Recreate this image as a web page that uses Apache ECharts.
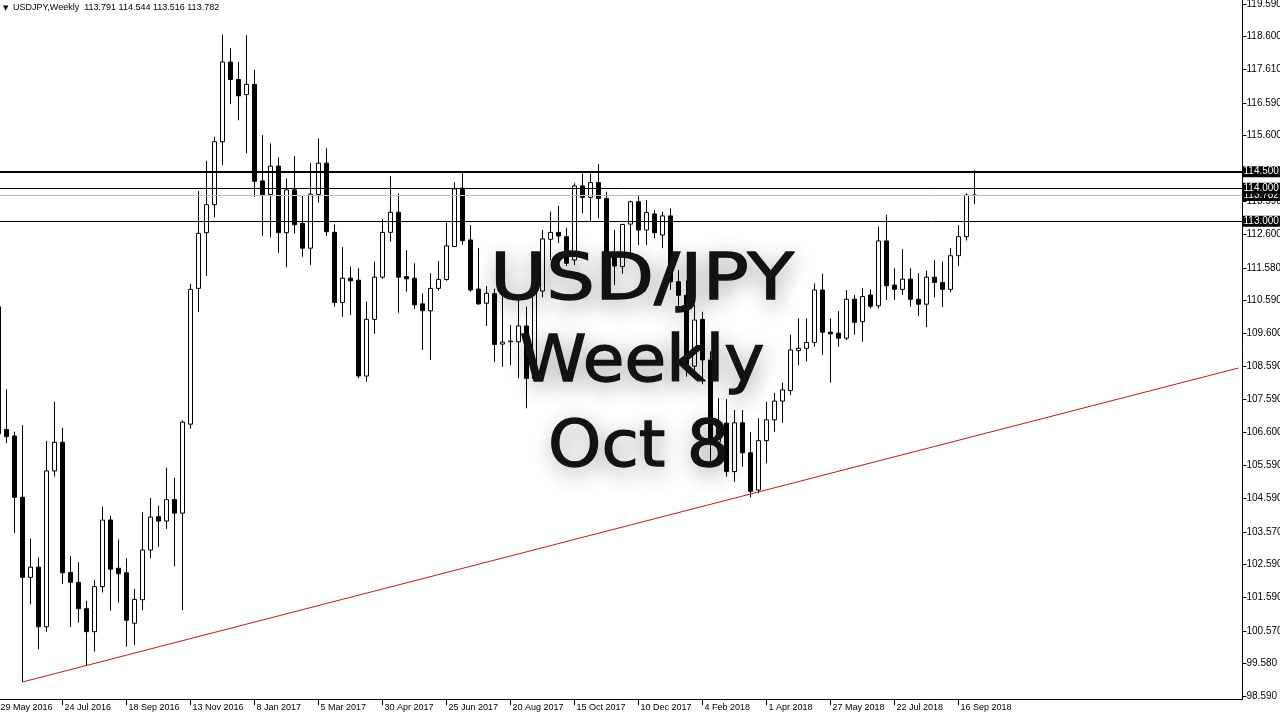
<!DOCTYPE html>
<html><head><meta charset="utf-8">
<script src="https://cdn.jsdelivr.net/npm/echarts@6/dist/echarts.min.js"></script>
<style>html,body{margin:0;padding:0;background:#fff}#c{width:1280px;height:720px}</style>
</head><body><div id="c"></div>
<script>
// Weekly bars, index 0 = week of 29 May 2016
const xTickLabels = ['29 May 2016','24 Jul 2016','18 Sep 2016','13 Nov 2016','8 Jan 2017','5 Mar 2017','30 Apr 2017','25 Jun 2017','20 Aug 2017','15 Oct 2017','10 Dec 2017','4 Feb 2018','1 Apr 2018','27 May 2018','22 Jul 2018','16 Sep 2018'];
const yTickValues = [119.59,118.6,117.61,116.59,115.6,113.59,112.6,111.58,110.59,109.6,108.59,107.59,106.6,105.59,104.59,103.57,102.59,101.59,100.57,99.58,98.59];
const totalSlots = 156;

const opens = [110.40,106.68,106.48,104.62,102.19,102.50,100.69,105.42,106.29,102.34,102.04,101.24,100.54,101.91,103.93,102.47,102.33,
100.80,101.51,103.02,104.03,103.90,104.55,104.14,106.84,110.96,112.65,113.50,115.41,117.83,117.30,116.84,117.15,
114.22,113.81,114.67,112.65,113.95,112.93,112.18,113.81,114.76,112.66,110.53,111.27,111.21,108.30,110.02,
111.30,112.66,113.27,111.32,111.27,110.49,110.28,110.96,111.23,112.23,114.00,112.43,110.94,110.51,110.80,
109.27,109.34,109.34,109.82,108.23,110.88,112.45,112.66,112.53,111.82,114.07,113.72,114.17,113.69,112.02,111.62,
112.91,113.59,112.73,113.22,112.58,113.16,111.16,110.75,108.60,110.02,108.79,106.30,106.87,105.40,106.88,105.97,
104.84,106.34,106.97,107.54,107.86,109.07,109.14,109.32,110.91,109.63,109.60,109.45,110.63,109.95,110.76,
110.43,112.40,111.06,110.93,111.24,110.63,110.48,111.30,111.14,110.93,111.95,112.53,113.791];
const highs = [111.40,107.90,106.61,106.81,103.37,102.80,106.33,107.52,106.73,102.84,102.65,101.48,102.11,104.33,104.06,103.34,102.77,
101.84,104.16,104.60,104.36,105.52,105.21,106.95,111.10,113.91,114.83,115.56,118.66,118.25,117.83,118.64,117.59,
115.61,115.36,114.94,114.30,114.98,113.79,114.76,115.51,115.21,112.90,112.21,111.62,111.57,110.56,111.77,
113.06,114.37,113.84,112.12,111.72,110.81,111.42,111.79,112.95,114.18,114.49,112.88,112.18,111.03,110.95,
110.96,109.85,110.61,110.41,111.37,112.73,113.29,113.46,112.80,114.15,114.45,114.45,114.73,113.89,112.73,112.92,
113.62,113.76,113.64,113.34,113.29,113.39,111.52,111.20,110.46,110.25,109.05,107.63,107.60,107.27,107.27,106.60,
107.02,107.52,107.79,108.10,109.55,110.05,110.05,111.11,111.40,110.05,110.27,110.91,110.76,110.96,110.93,
112.83,113.19,111.57,112.15,111.57,111.42,111.50,111.82,111.77,112.18,112.88,113.84,114.544];
const lows = [106.50,106.26,103.54,99.02,101.37,100.01,100.54,105.25,101.99,100.68,100.82,99.53,99.94,101.73,101.18,101.42,100.09,
100.14,101.20,102.77,103.12,103.66,102.53,101.20,106.70,110.24,111.34,113.12,114.71,116.55,116.06,115.06,113.74,
112.55,112.51,112.04,111.60,112.63,111.92,111.67,113.56,112.55,110.40,110.10,110.15,108.23,108.13,109.58,
111.25,112.38,110.22,110.86,110.33,109.09,108.79,110.89,111.19,112.21,112.28,110.86,110.46,109.82,108.73,
108.58,108.63,108.23,107.32,108.18,110.69,111.82,112.33,111.64,111.67,113.24,112.98,113.09,111.92,111.06,111.40,
112.03,112.28,112.28,112.48,112.18,110.91,110.25,108.28,108.28,108.05,105.55,105.90,105.25,105.09,105.55,104.62,
104.74,105.65,106.61,106.88,107.72,108.63,108.74,109.19,108.94,108.10,109.19,109.39,109.55,109.34,110.35,
110.35,110.61,110.61,110.76,110.40,110.12,109.78,110.69,110.39,110.84,111.64,112.41,113.516];
const closes = [106.55,106.46,104.62,102.19,102.50,100.69,105.42,106.29,102.33,102.04,101.24,100.54,101.91,103.93,102.44,102.30,100.89,
101.52,103.02,104.02,103.90,104.55,104.14,106.90,110.93,112.63,113.50,115.41,117.83,117.30,116.80,117.15,114.21,
113.81,114.67,112.65,113.95,112.89,112.18,113.82,114.76,112.68,110.53,111.27,111.19,108.30,110.02,111.30,
112.66,113.27,111.30,111.25,110.46,110.28,110.96,111.23,112.25,113.98,112.41,110.91,110.49,110.81,109.26,
109.33,109.36,109.82,108.23,110.84,112.46,112.66,112.55,111.72,114.07,113.72,114.17,113.69,112.02,111.64,112.90,
113.59,112.73,113.26,112.65,113.16,111.16,110.75,108.60,110.00,108.79,106.30,106.87,105.40,106.88,105.97,104.80,
106.34,106.97,107.54,107.88,109.09,109.14,109.32,110.91,109.63,109.58,109.45,110.63,109.93,110.71,110.42,
112.40,111.04,110.93,111.24,110.63,110.48,111.30,111.14,110.93,111.95,112.53,113.79,113.782];

const levelValues = [114.5, 114.0, 113.0];
const bidValue = 113.782;
const trendStart = [3, 99.015];
const trendEnd = [155, 108.544];
const headerText = 'USDJPY,Weekly  113.791 114.544 113.516 113.782';
const overlayLines = ['USD/JPY', 'Weekly', 'Oct 8'];

const categories = Array.from({length: totalSlots}, (_, i) => String(i));
const candleData = opens.map((o, i) => [o, closes[i], lows[i], highs[i]]);
const showTick = (idx) => idx % 8 === 0 && idx / 8 < xTickLabels.length;

const boxLabel = (txt) => ({
  show: true, position: 'end', distance: 0, formatter: txt,
  color: '#fff', backgroundColor: '#000', padding: [1, 1, 0, 1],
  fontFamily: 'Liberation Sans', fontSize: 10
});

const bigStyle = (txt) => ({
  text: txt, fontSize: 64, fontFamily: 'DejaVu Sans', fill: '#121212', stroke: '#121212', lineWidth: 1.3,
  textAlign: 'center', textVerticalAlign: 'middle',
  textShadowBlur: 22, textShadowColor: 'rgba(0,0,0,0.32)', textShadowOffsetX: 2, textShadowOffsetY: 6
});

const chart = echarts.init(document.getElementById('c'), null, {renderer: 'canvas'});
chart.setOption({
  animation: false,
  backgroundColor: '#fff',
  grid: {left: -5.5, right: 37.5, top: 0, bottom: 21, containLabel: false, outerBoundsMode: 'none'},
  xAxis: {
    type: 'category', data: categories, boundaryGap: true,
    axisLine: {show: true, lineStyle: {color: '#000', width: 1}},
    axisTick: {show: true, alignWithLabel: true, interval: (i) => showTick(i), length: 6, lineStyle: {color: '#000'}},
    axisLabel: {
      show: true, interval: (i) => showTick(i), align: 'left', margin: 4, padding: [0, 0, 0, 2],
      fontFamily: 'Liberation Sans', fontSize: 9, color: '#000',
      formatter: (v, idx) => showTick(idx) ? xTickLabels[idx / 8] : ''
    },
    splitLine: {show: false}
  },
  yAxis: {
    type: 'value', position: 'right', min: 98.499, max: 119.711, scale: true,
    axisLine: {show: true, lineStyle: {color: '#000', width: 1}},
    axisTick: {show: true, customValues: yTickValues, length: 4, lineStyle: {color: '#000'}},
    axisLabel: {show: true, customValues: yTickValues, formatter: (v) => v.toFixed(3),
      fontFamily: 'Liberation Sans', fontSize: 10, color: '#000', margin: 4},
    splitLine: {show: false}
  },
  series: [{
    type: 'candlestick', data: candleData, barWidth: 4,
    itemStyle: {color: '#fff', color0: '#000', borderColor: '#000', borderColor0: '#000', borderColorDoji: '#000', borderWidth: 1},
    markLine: {
      symbol: 'none', silent: true, animation: false, precision: 3,
      data: [
        {yAxis: bidValue, lineStyle: {color: '#c0c0c0', width: 1, type: 'solid'}, label: boxLabel(bidValue.toFixed(3))},
        {yAxis: levelValues[1], lineStyle: {color: '#000', width: 1, type: 'solid'}, label: boxLabel(levelValues[1].toFixed(3))},
        {yAxis: levelValues[0], lineStyle: {color: '#000', width: 2, type: 'solid'}, label: boxLabel(levelValues[0].toFixed(3))},
        {yAxis: levelValues[2], lineStyle: {color: '#000', width: 1, type: 'solid'}, label: boxLabel(levelValues[2].toFixed(3))},
        [{coord: trendStart, lineStyle: {color: '#d01414', width: 1, type: 'solid'}, label: {show: false}}, {coord: trendEnd}]
      ]
    }
  }],
  graphic: [
    {type: 'text', left: 3, top: 5, z: 100, style: {text: '▼', fontSize: 7, fontFamily: 'DejaVu Sans', fill: '#000'}},
    {type: 'text', left: 13, top: 3, z: 100, style: {text: headerText, fontSize: 9, fontFamily: 'Liberation Sans', fill: '#000'}},
    {type: 'text', x: 642, y: 282, scaleX: 1.2, z: 100, style: bigStyle(overlayLines[0])},
    {type: 'text', x: 642, y: 364, scaleX: 1.06, z: 100, style: bigStyle(overlayLines[1])},
    {type: 'text', x: 639, y: 449, scaleX: 1.06, z: 100, style: bigStyle(overlayLines[2])}
  ]
});
</script></body></html>
